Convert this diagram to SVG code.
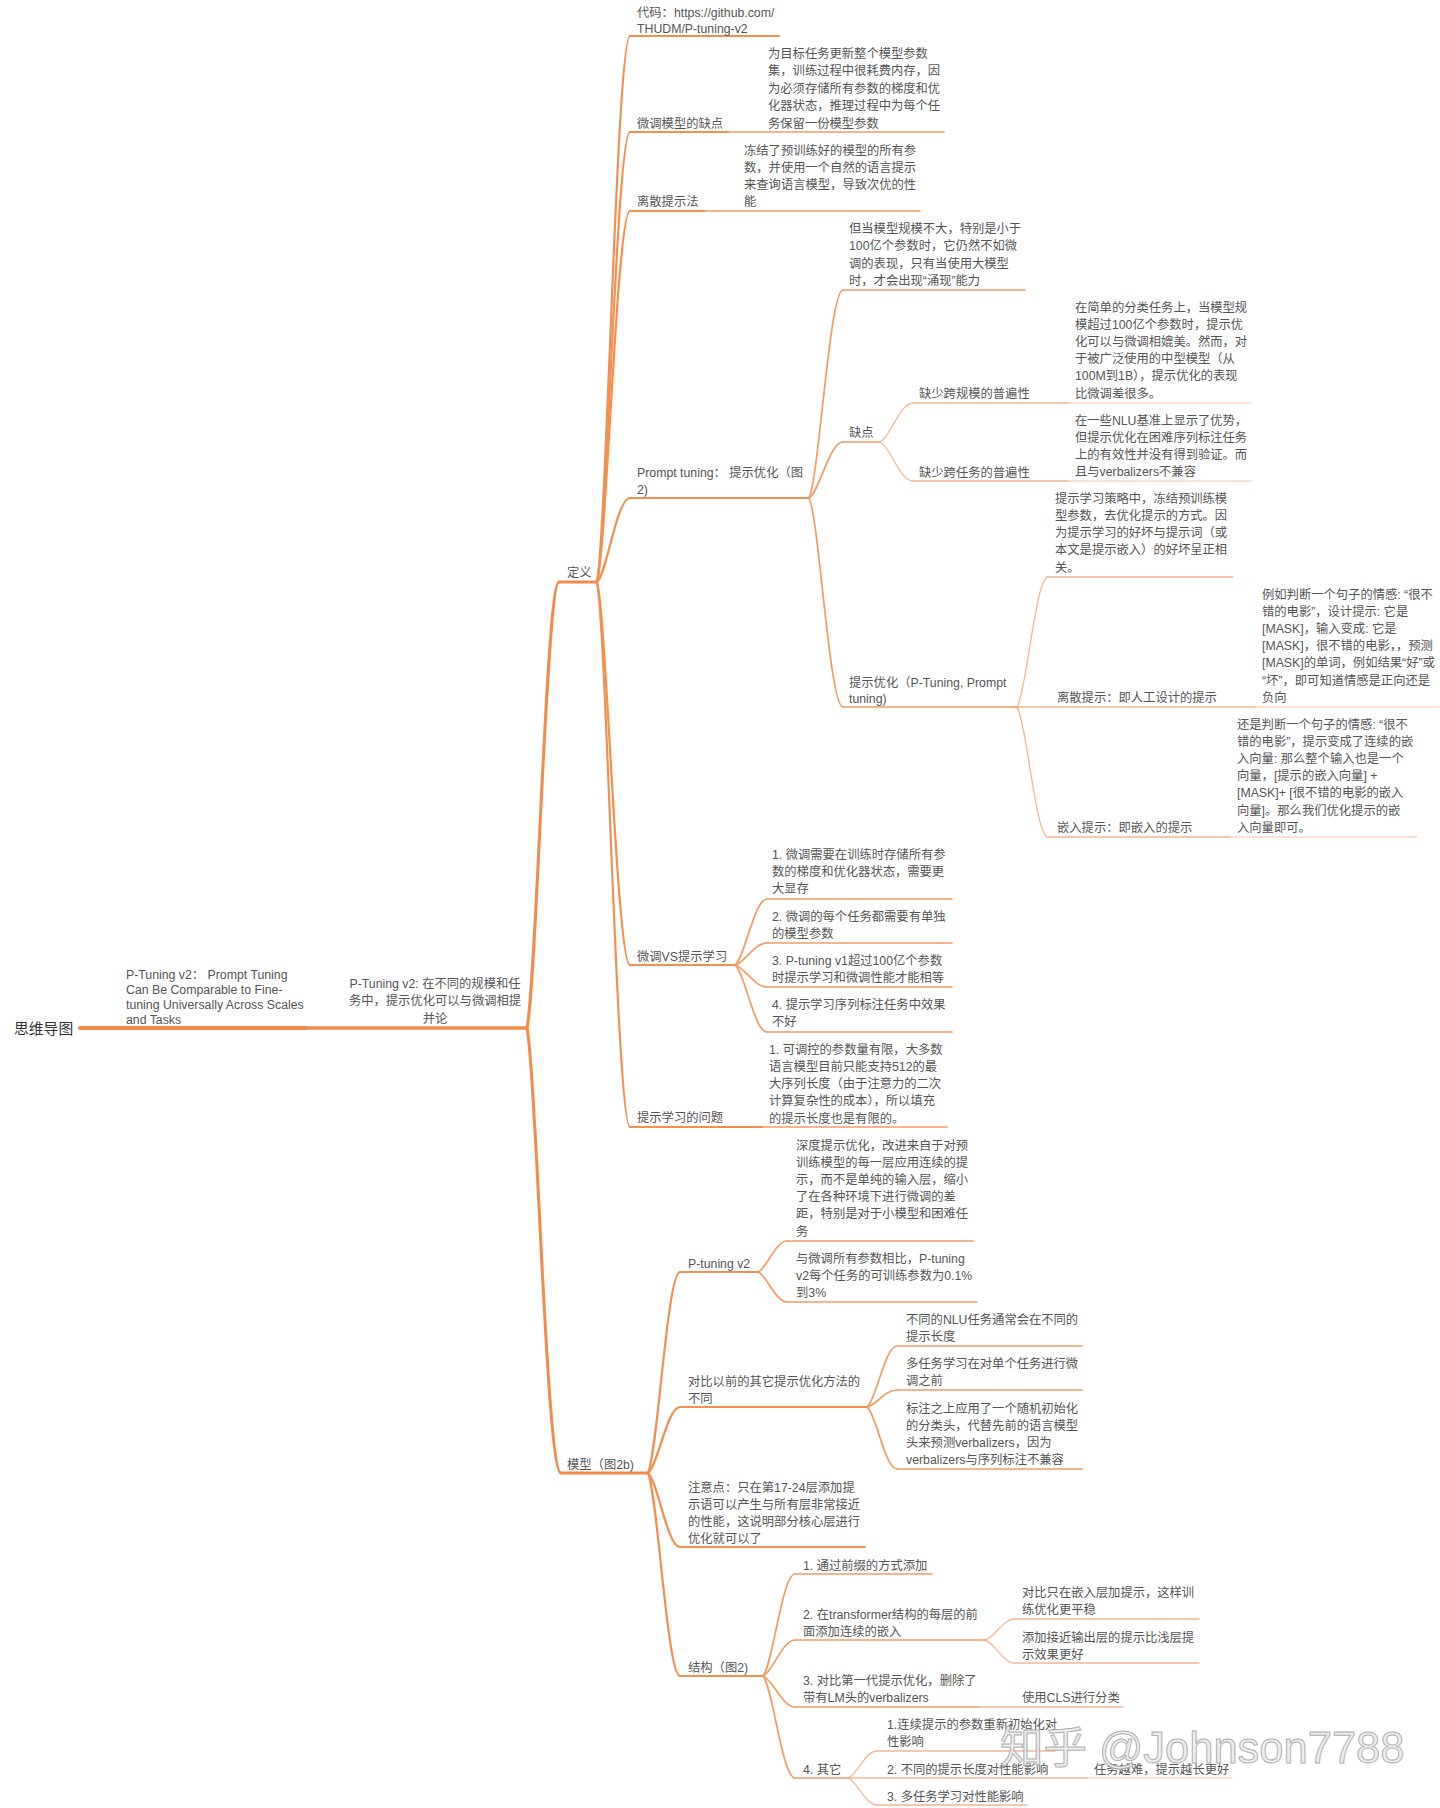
<svg xmlns="http://www.w3.org/2000/svg" width="1440" height="1808" viewBox="0 0 1440 1808">
<style>
text{font-family:"Liberation Sans","Noto Sans CJK SC",sans-serif;font-size:12.3px;fill:#555}
.root{font-size:14.8px;fill:#333}
line,path{fill:none;stroke-linecap:round}
.w1{stroke:#F28A48;stroke-width:4}
.w2{stroke:#F28A48;stroke-width:3.5}
.w3{stroke:#F38C4B;stroke-width:3}
.w4{stroke:#F3904F;stroke-width:2.2}
.w5{stroke:#F39C64;stroke-width:1.7}
.w6{stroke:#F5B792;stroke-width:1.3}
.w7{stroke:#F6C6A8;stroke-width:1.2}
.wm{font-size:43.5px;fill:#ececec;stroke:#a8a8a8;stroke-width:1;opacity:0.9}
</style>
<rect x="0" y="0" width="1440" height="1808" fill="#fff"/>

<g id="connectors">
<path class="w3" d="M527,1028 C536.6,983.4 546.2,582 559,582"/>
<path class="w3" d="M527,1028 C536.6,1072.5 546.2,1473 561,1473"/>
<path class="w4" d="M597,582 C606.9,527.4 616.8,36 630,36"/>
<path class="w4" d="M597,582 C606.9,537 616.8,132 630,132"/>
<path class="w4" d="M597,582 C606.9,544.9 616.8,211 630,211"/>
<path class="w4" d="M597,582 C606.9,573.6 616.8,498 630,498"/>
<path class="w4" d="M597,582 C606.9,620.3 616.8,965 630,965"/>
<path class="w4" d="M597,582 C606.9,636.5 616.8,1127 630,1127"/>
<path class="w5" d="M809,498 C819.2,477.2 829.4,290 843,290"/>
<path class="w5" d="M809,498 C819.2,492.4 829.4,442 843,442"/>
<path class="w5" d="M809,498 C819.2,518.9 829.4,707 843,707"/>
<path class="w6" d="M880,442 C889.9,438.1 899.8,403 913,403"/>
<path class="w6" d="M880,442 C889.9,445.9 899.8,481 913,481"/>
<path class="w6" d="M1017,707 C1026.3,694 1035.6,577 1048,577"/>
<path class="w6" d="M1017,707 L1048,707"/>
<path class="w6" d="M1017,707 C1026.3,720 1035.6,837 1048,837"/>
<path class="w5" d="M735,965 C744.6,958.4 754.2,899 767,899"/>
<path class="w5" d="M735,965 C744.6,962.8 754.2,943 767,943"/>
<path class="w5" d="M735,965 C744.6,967.2 754.2,987 767,987"/>
<path class="w5" d="M735,965 C744.6,971.7 754.2,1032 767,1032"/>
<path class="w4" d="M648,1473 C657.6,1452.9 667.2,1272 680,1272"/>
<path class="w4" d="M648,1473 C657.6,1466.4 667.2,1407 680,1407"/>
<path class="w4" d="M648,1473 C657.6,1480.4 667.2,1547 680,1547"/>
<path class="w4" d="M648,1473 C657.6,1493.3 667.2,1676 680,1676"/>
<path class="w5" d="M758,1272 C766.7,1268.9 775.4,1241 787,1241"/>
<path class="w5" d="M758,1272 C766.7,1275 775.4,1302 787,1302"/>
<path class="w5" d="M867,1407 C876,1400.9 885,1346 897,1346"/>
<path class="w5" d="M867,1407 C876,1405.3 885,1390 897,1390"/>
<path class="w5" d="M867,1407 C876,1413.2 885,1469 897,1469"/>
<path class="w5" d="M763,1676 C772.6,1665.8 782.2,1574 795,1574"/>
<path class="w5" d="M763,1676 C772.6,1672.4 782.2,1640 795,1640"/>
<path class="w5" d="M763,1676 C772.6,1679.1 782.2,1707 795,1707"/>
<path class="w5" d="M763,1676 C772.6,1686.2 782.2,1778 795,1778"/>
<path class="w6" d="M985,1640 C994,1637.9 1003,1619 1015,1619"/>
<path class="w6" d="M985,1640 C994,1642.3 1003,1663 1015,1663"/>
<path class="w6" d="M848,1778 C856.7,1775.3 865.4,1751 877,1751"/>
<path class="w6" d="M848,1778 L877,1778"/>
<path class="w6" d="M848,1778 C856.7,1780.7 865.4,1805 877,1805"/>
</g>

<g id="n-root"><text class="root" x="14" y="1034">思维导图</text></g>

<g id="n-paper">
<line class="w1" x1="80" y1="1028" x2="306" y2="1028"/>
<text x="126" y="978.5">P-Tuning v2： Prompt Tuning</text>
<text x="126" y="993.5">Can Be Comparable to Fine-</text>
<text x="126" y="1008.5">tuning Universally Across Scales</text>
<text x="126" y="1023.5">and Tasks</text>
</g>

<g id="n-summary">
<line class="w2" x1="306" y1="1028" x2="527" y2="1028"/>
<text x="435" y="987.5" text-anchor="middle">P-Tuning v2: 在不同的规模和任</text>
<text x="435" y="1005" text-anchor="middle">务中，提示优化可以与微调相提</text>
<text x="435" y="1022.5" text-anchor="middle">并论</text>
</g>

<g id="n-def">
<line class="w3" x1="559" y1="582" x2="597" y2="582"/>
<text x="567" y="577">定义</text>
</g>

<g id="n-code">
<line class="w4" x1="630" y1="36" x2="779" y2="36"/>
<text x="637" y="16.8">代码：https://github.com/</text>
<text x="637" y="32.8">THUDM/P-tuning-v2</text>
</g>

<g id="n-ft-cons">
<line class="w4" x1="630" y1="132" x2="728" y2="132"/>
<text x="637" y="127.5">微调模型的缺点</text>
</g>
<g id="n-ft-cons-d">
<line class="w5" x1="728" y1="132" x2="944" y2="132"/>
<text x="768" y="57.5">为目标任务更新整个模型参数</text>
<text x="768" y="75">集，训练过程中很耗费内存，因</text>
<text x="768" y="92.5">为必须存储所有参数的梯度和优</text>
<text x="768" y="110">化器状态，推理过程中为每个任</text>
<text x="768" y="127.5">务保留一份模型参数</text>
</g>

<g id="n-discrete">
<line class="w4" x1="630" y1="211" x2="705" y2="211"/>
<text x="637" y="205.5">离散提示法</text>
</g>
<g id="n-discrete-d">
<line class="w5" x1="705" y1="211" x2="920" y2="211"/>
<text x="744" y="154.5">冻结了预训练好的模型的所有参</text>
<text x="744" y="171.5">数，并使用一个自然的语言提示</text>
<text x="744" y="188.5">来查询语言模型，导致次优的性</text>
<text x="744" y="205.5">能</text>
</g>

<g id="n-prompt-tuning">
<line class="w4" x1="630" y1="498" x2="809" y2="498"/>
<text x="637" y="477">Prompt tuning： 提示优化（图</text>
<text x="637" y="493.5">2)</text>
</g>

<g id="n-pt-scale">
<line class="w5" x1="843" y1="290" x2="1025" y2="290"/>
<text x="849" y="233">但当模型规模不大，特别是小于</text>
<text x="849" y="250.3">100亿个参数时，它仍然不如微</text>
<text x="849" y="267.6">调的表现，只有当使用大模型</text>
<text x="849" y="284.9">时，才会出现“涌现”能力</text>
</g>

<g id="n-pt-cons">
<line class="w5" x1="843" y1="442" x2="880" y2="442"/>
<text x="849" y="436.5">缺点</text>
</g>

<g id="n-cons-scale">
<line class="w6" x1="913" y1="403" x2="1068" y2="403"/>
<text x="919" y="397.5">缺少跨规模的普遍性</text>
</g>
<g id="n-cons-scale-d">
<line class="w7" x1="1068" y1="403" x2="1251" y2="403"/>
<text x="1075" y="311.5">在简单的分类任务上，当模型规</text>
<text x="1075" y="328.7">模超过100亿个参数时，提示优</text>
<text x="1075" y="345.9">化可以与微调相媲美。然而，对</text>
<text x="1075" y="363.1">于被广泛使用的中型模型（从</text>
<text x="1075" y="380.3">100M到1B），提示优化的表现</text>
<text x="1075" y="397.5">比微调差很多。</text>
</g>

<g id="n-cons-task">
<line class="w6" x1="913" y1="481" x2="1068" y2="481"/>
<text x="919" y="476.5">缺少跨任务的普遍性</text>
</g>
<g id="n-cons-task-d">
<line class="w7" x1="1068" y1="481" x2="1252" y2="481"/>
<text x="1075" y="424.5">在一些NLU基准上显示了优势，</text>
<text x="1075" y="441.8">但提示优化在困难序列标注任务</text>
<text x="1075" y="459.1">上的有效性并没有得到验证。而</text>
<text x="1075" y="476.4">且与verbalizers不兼容</text>
</g>

<g id="n-pt-opt">
<line class="w5" x1="843" y1="707" x2="1017" y2="707"/>
<text x="849" y="687">提示优化（P-Tuning, Prompt</text>
<text x="849" y="703">tuning)</text>
</g>

<g id="n-opt-strategy">
<line class="w6" x1="1048" y1="577" x2="1233" y2="577"/>
<text x="1055" y="502.5">提示学习策略中，冻结预训练模</text>
<text x="1055" y="519.8">型参数，去优化提示的方式。因</text>
<text x="1055" y="537.1">为提示学习的好坏与提示词（或</text>
<text x="1055" y="554.4">本文是提示嵌入）的好坏呈正相</text>
<text x="1055" y="571.7">关。</text>
</g>

<g id="n-opt-discrete">
<line class="w6" x1="1048" y1="707" x2="1255" y2="707"/>
<text x="1057" y="701.7">离散提示：即人工设计的提示</text>
</g>
<g id="n-opt-discrete-d">
<line class="w7" x1="1255" y1="707" x2="1439" y2="707"/>
<text x="1262" y="598.5">例如判断一个句子的情感: “很不</text>
<text x="1262" y="615.7">错的电影”，设计提示: 它是</text>
<text x="1262" y="632.9">[MASK]，输入变成: 它是</text>
<text x="1262" y="650.1">[MASK]，很不错的电影，，预测</text>
<text x="1262" y="667.3">[MASK]的单词，例如结果“好”或</text>
<text x="1262" y="684.5">“坏”，即可知道情感是正向还是</text>
<text x="1262" y="701.7">负向</text>
</g>

<g id="n-opt-embed">
<line class="w6" x1="1048" y1="837" x2="1230" y2="837"/>
<text x="1057" y="831.7">嵌入提示：即嵌入的提示</text>
</g>
<g id="n-opt-embed-d">
<line class="w7" x1="1230" y1="837" x2="1417" y2="837"/>
<text x="1237" y="728.5">还是判断一个句子的情感: “很不</text>
<text x="1237" y="745.7">错的电影”，提示变成了连续的嵌</text>
<text x="1237" y="762.9">入向量: 那么整个输入也是一个</text>
<text x="1237" y="780.1">向量，[提示的嵌入向量] +</text>
<text x="1237" y="797.3">[MASK]+ [很不错的电影的嵌入</text>
<text x="1237" y="814.5">向量]。那么我们优化提示的嵌</text>
<text x="1237" y="831.7">入向量即可。</text>
</g>

<g id="n-ftvs">
<line class="w4" x1="630" y1="965" x2="735" y2="965"/>
<text x="637" y="960.5">微调VS提示学习</text>
</g>
<g id="n-ftvs-1">
<line class="w5" x1="767" y1="899" x2="952" y2="899"/>
<text x="772" y="858.5">1. 微调需要在训练时存储所有参</text>
<text x="772" y="875.8">数的梯度和优化器状态，需要更</text>
<text x="772" y="893.1">大显存</text>
</g>
<g id="n-ftvs-2">
<line class="w5" x1="767" y1="943" x2="952" y2="943"/>
<text x="772" y="920.5">2. 微调的每个任务都需要有单独</text>
<text x="772" y="937.8">的模型参数</text>
</g>
<g id="n-ftvs-3">
<line class="w5" x1="767" y1="987" x2="952" y2="987"/>
<text x="772" y="964.5">3. P-tuning v1超过100亿个参数</text>
<text x="772" y="981.8">时提示学习和微调性能才能相等</text>
</g>
<g id="n-ftvs-4">
<line class="w5" x1="767" y1="1032" x2="952" y2="1032"/>
<text x="772" y="1008.5">4. 提示学习序列标注任务中效果</text>
<text x="772" y="1025.8">不好</text>
</g>

<g id="n-problem">
<line class="w4" x1="630" y1="1127" x2="762" y2="1127"/>
<text x="637" y="1122">提示学习的问题</text>
</g>
<g id="n-problem-d">
<line class="w5" x1="762" y1="1127" x2="947" y2="1127"/>
<text x="769" y="1053.5">1. 可调控的参数量有限，大多数</text>
<text x="769" y="1070.8">语言模型目前只能支持512的最</text>
<text x="769" y="1088.1">大序列长度（由于注意力的二次</text>
<text x="769" y="1105.4">计算复杂性的成本），所以填充</text>
<text x="769" y="1122.7">的提示长度也是有限的。</text>
</g>

<g id="n-model">
<line class="w3" x1="561" y1="1473" x2="648" y2="1473"/>
<text x="567" y="1468.5">模型（图2b)</text>
</g>

<g id="n-ptv2">
<line class="w4" x1="680" y1="1272" x2="758" y2="1272"/>
<text x="688" y="1267.5">P-tuning v2</text>
</g>
<g id="n-ptv2-deep">
<line class="w5" x1="787" y1="1241" x2="973" y2="1241"/>
<text x="796" y="1149.5">深度提示优化，改进来自于对预</text>
<text x="796" y="1166.7">训练模型的每一层应用连续的提</text>
<text x="796" y="1183.9">示，而不是单纯的输入层，缩小</text>
<text x="796" y="1201.1">了在各种环境下进行微调的差</text>
<text x="796" y="1218.3">距，特别是对于小模型和困难任</text>
<text x="796" y="1235.5">务</text>
</g>
<g id="n-ptv2-param">
<line class="w5" x1="787" y1="1302" x2="977" y2="1302"/>
<text x="796" y="1262.5">与微调所有参数相比，P-tuning</text>
<text x="796" y="1279.7">v2每个任务的可训练参数为0.1%</text>
<text x="796" y="1296.9">到3%</text>
</g>

<g id="n-compare">
<line class="w4" x1="680" y1="1407" x2="867" y2="1407"/>
<text x="688" y="1385.5">对比以前的其它提示优化方法的</text>
<text x="688" y="1402.8">不同</text>
</g>
<g id="n-compare-1">
<line class="w5" x1="897" y1="1346" x2="1082" y2="1346"/>
<text x="906" y="1323.5">不同的NLU任务通常会在不同的</text>
<text x="906" y="1340.8">提示长度</text>
</g>
<g id="n-compare-2">
<line class="w5" x1="897" y1="1390" x2="1082" y2="1390"/>
<text x="906" y="1367.5">多任务学习在对单个任务进行微</text>
<text x="906" y="1384.8">调之前</text>
</g>
<g id="n-compare-3">
<line class="w5" x1="897" y1="1469" x2="1082" y2="1469"/>
<text x="906" y="1412.5">标注之上应用了一个随机初始化</text>
<text x="906" y="1429.7">的分类头，代替先前的语言模型</text>
<text x="906" y="1446.9">头来预测verbalizers，因为</text>
<text x="906" y="1464.1">verbalizers与序列标注不兼容</text>
</g>

<g id="n-note">
<line class="w4" x1="680" y1="1547" x2="865" y2="1547"/>
<text x="688" y="1491.5">注意点：只在第17-24层添加提</text>
<text x="688" y="1508.7">示语可以产生与所有层非常接近</text>
<text x="688" y="1525.9">的性能，这说明部分核心层进行</text>
<text x="688" y="1543.1">优化就可以了</text>
</g>

<g id="n-struct">
<line class="w4" x1="680" y1="1676" x2="763" y2="1676"/>
<text x="688" y="1671.5">结构（图2)</text>
</g>
<g id="n-struct-1">
<line class="w5" x1="795" y1="1574" x2="932" y2="1574"/>
<text x="803" y="1569.5">1. 通过前缀的方式添加</text>
</g>
<g id="n-struct-2">
<line class="w5" x1="795" y1="1640" x2="985" y2="1640"/>
<text x="803" y="1618.5">2. 在transformer结构的每层的前</text>
<text x="803" y="1635.7">面添加连续的嵌入</text>
</g>
<g id="n-struct-2a">
<line class="w6" x1="1015" y1="1619" x2="1199" y2="1619"/>
<text x="1022" y="1596.5">对比只在嵌入层加提示，这样训</text>
<text x="1022" y="1613.7">练优化更平稳</text>
</g>
<g id="n-struct-2b">
<line class="w6" x1="1015" y1="1663" x2="1199" y2="1663"/>
<text x="1022" y="1641.5">添加接近输出层的提示比浅层提</text>
<text x="1022" y="1658.5">示效果更好</text>
</g>
<g id="n-struct-3">
<line class="w5" x1="795" y1="1707" x2="978" y2="1707"/>
<text x="803" y="1684.5">3. 对比第一代提示优化，删除了</text>
<text x="803" y="1701.7">带有LM头的verbalizers</text>
</g>
<g id="n-struct-3a">
<line class="w6" x1="978" y1="1707" x2="1123" y2="1707"/>
<text x="1022" y="1701.7">使用CLS进行分类</text>
</g>
<g id="n-struct-4">
<line class="w5" x1="795" y1="1778" x2="848" y2="1778"/>
<text x="803" y="1773.5">4. 其它</text>
</g>
<g id="n-other-1">
<line class="w6" x1="877" y1="1751" x2="1055" y2="1751"/>
<text x="887" y="1728.5">1.连续提示的参数重新初始化对</text>
<text x="887" y="1745.7">性影响</text>
</g>
<g id="n-other-2">
<line class="w6" x1="877" y1="1778" x2="1087" y2="1778"/>
<text x="887" y="1773.5">2. 不同的提示长度对性能影响</text>
</g>
<g id="n-other-2a">
<line class="w7" x1="1087" y1="1778" x2="1232" y2="1778"/>
<text x="1094" y="1773.5">任务越难，提示越长更好</text>
</g>
<g id="n-other-3">
<line class="w6" x1="877" y1="1805" x2="1027" y2="1805"/>
<text x="887" y="1800.5">3. 多任务学习对性能影响</text>
</g>

<g id="watermark"><text class="wm" x="1000" y="1763">知乎 @Johnson7788</text></g>
</svg>
